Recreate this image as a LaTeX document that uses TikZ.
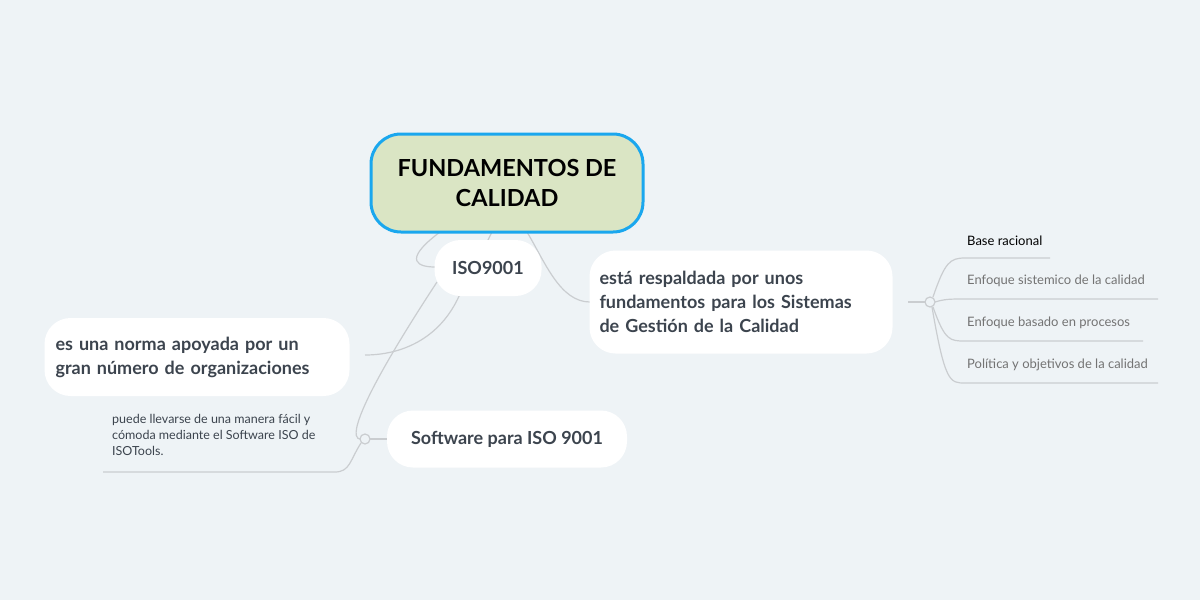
\documentclass[tikz,border=0pt]{standalone}
\usepackage{fontspec}
\setmainfont{Lato}
\begin{document}
\begin{tikzpicture}[x=1pt,y=-1pt,
  box/.style={fill=white,rounded corners=26pt,inner sep=0pt,font=\bfseries\fontsize{18}{24}\selectfont,text=txt,align=left},
  con/.style={draw=lin,line width=1.2pt},
  leaf/.style={anchor=south west,inner sep=0pt,font=\fontsize{13}{15}\selectfont,text=gray!90!black}]
\definecolor{bg}{HTML}{EEF3F6}
\definecolor{txt}{HTML}{3C444E}
\definecolor{lin}{HTML}{CACDD0}
\fill[bg] (0,0) rectangle (1200,600);
\useasboundingbox (0,0) rectangle (1200,600);
% connectors
\draw[con] (440,232) .. controls (400,262) and (420,267) .. (435,267);
\draw[con] (492,232) -- (488,240);
\draw[con] (527,232) .. controls (545,262) and (560,302) .. (590,302);
\draw[con] (460,294) .. controls (440,340) and (400,355) .. (365,355);
\draw[con] (437,282) .. controls (340,430) and (355,439) .. (360,439);
\draw[con] (370,439) -- (387,439);
\draw[con] (361,443) .. controls (350,460) and (350,472) .. (335,472) -- (103,472);
\draw[con] (908,302) -- (925,302);
\draw[con] (933,297) .. controls (945,262) and (950,258) .. (965,258) -- (1050,258);
\draw[con] (935,302) .. controls (945,299) and (950,299) .. (965,299) -- (1158,299);
\draw[con] (933,307) .. controls (945,341) and (950,341) .. (965,341) -- (1143,341);
\draw[con] (932,307) .. controls (945,383) and (950,383) .. (965,383) -- (1158,383);
\draw[con,fill=bg] (365,439) circle (5);
\draw[con,fill=bg] (930,302) circle (5);
% nodes
\node[draw={rgb,255:red,26;green,167;blue,238},line width=3pt,fill={rgb,255:red,218;green,229;blue,196},rounded corners=30pt,minimum width=272pt,minimum height=98pt,align=center,font=\bfseries\fontsize{23.5}{31}\selectfont,text=black] (root) at (507,183) {FUNDAMENTOS DE\\CALIDAD};
\node[box,minimum width=107pt,minimum height=56pt,align=center] (iso) at (488,268) {ISO9001};
\node[box,minimum width=305pt,minimum height=78pt,text width=283pt] (norma) at (197,357) {es una norma apoyada por un\\gran número de organizaciones};
\node[box,minimum width=303pt,minimum height=103pt,text width=283pt] (resp) at (741,302) {está respaldada por unos\\fundamentos para los Sistemas\\de Gestión de la Calidad};
\node[box,minimum width=240pt,minimum height=57pt,align=center] (soft) at (507,439) {Software para ISO 9001};
\node[anchor=north west,inner sep=0pt,align=left,font=\fontsize{12.5}{16}\selectfont,text=txt] (note) at (112,414) {puede llevarse de una manera fácil y\\cómoda mediante el Software ISO de\\ISOTools.};
\node[leaf,text=black] (l1) at (967,246) {Base racional};
\node[leaf] (l2) at (967,287) {Enfoque sistemico de la calidad};
\node[leaf] (l3) at (967,329) {Enfoque basado en procesos};
\node[leaf] (l4) at (967,371) {Política y objetivos de la calidad};
\end{tikzpicture}
\end{document}
